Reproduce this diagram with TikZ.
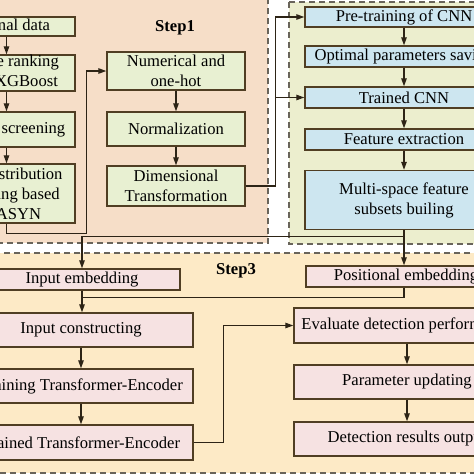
\documentclass[tikz,border=0pt]{standalone}
\usepackage{fontspec}
\setmainfont{Liberation Serif}
\usepackage{xcolor}
\usetikzlibrary{arrows.meta,positioning,calc}
\definecolor{steponebg}{RGB}{246,222,200}
\definecolor{steptwobg}{RGB}{236,238,206}
\definecolor{stepthreebg}{RGB}{253,234,198}
\definecolor{greenfill}{RGB}{232,240,210}
\definecolor{bluefill}{RGB}{205,230,240}
\definecolor{pinkfill}{RGB}{246,226,226}
\definecolor{boxline}{RGB}{80,62,35}
\definecolor{linecol}{RGB}{45,36,22}
\definecolor{dashgray}{RGB}{105,100,90}

\begin{document}
\begin{tikzpicture}[x=1pt, y=-1pt,
    every node/.style={font=\fontsize{16.6}{20}\selectfont},
    gbox/.style={rectangle, draw=boxline, line width=1.4pt, fill=greenfill,
        inner sep=0pt, align=center, minimum width=137pt},
    bbox/.style={rectangle, draw=boxline, line width=1.4pt, fill=bluefill,
        inner sep=0pt, align=center, minimum width=198pt},
    pbox/.style={rectangle, draw=boxline, line width=1.4pt, fill=pinkfill,
        inner sep=0pt, align=center, minimum width=224pt},
    region/.style={draw=dashgray, line width=2pt, dash pattern=on 6pt off 4pt},
    steplabel/.style={font=\fontsize{16.6}{20}\selectfont\bfseries},
    conn/.style={line width=1.2pt, draw=linecol},
    arr/.style={-{Triangle[length=8pt, width=5.5pt]}, line width=1.2pt, draw=linecol}
]
    \useasboundingbox (0,0) rectangle (474,474);
    \clip (0,0) rectangle (474,474);

    % Step regions
    \draw[region, fill=steponebg] (-20,-20) rectangle (268,243);
    \draw[region, fill=steptwobg] (289,2) rectangle (600,244);
    \draw[region, fill=stepthreebg] (-20,253) rectangle (600,473);

    % Step1 columns
    \node[steplabel] (s1lab) at (175,28) {Step1};
    \node[gbox, minimum height=19pt] (orig) at (6.5,26.5) {Original data};
    \node[gbox, minimum height=36pt] (rank) at (6.5,73) {Feature ranking\\using XGBoost};
    \node[gbox, minimum height=35pt] (screen) at (6.5,129.5) {Feature screening};
    \node[gbox, minimum height=59pt] (balance) at (6.5,193.5) {Data distribution\\balancing based\\ADASYN};
    \node[gbox, minimum width=138pt, minimum height=38pt] (numer) at (176,71) {Numerical and\\one-hot};
    \node[gbox, minimum width=138pt, minimum height=34pt] (norm) at (176,129) {Normalization};
    \node[gbox, minimum width=138pt, minimum height=40pt] (dimen) at (176,186) {Dimensional\\Transformation};
    \draw[arr] (orig) -- (rank);
    \draw[arr] (rank) -- (screen);
    \draw[arr] (screen) -- (balance);
    \draw[arr] (balance.south) -- ++(0,10) -- ++(80,0) |- (numer.west);
    \draw[arr] (numer) -- (norm);
    \draw[arr] (norm) -- (dimen);

    % Step2 column
    \node[bbox, minimum height=20pt] (pretrain) at (404,17) {Pre-training of CNN};
    \node[bbox, minimum height=21pt] (optim) at (404,56.5) {Optimal parameters saving};
    \node[bbox, minimum height=21pt] (trained) at (404,97.5) {Trained CNN};
    \node[bbox, minimum height=21pt] (featext) at (404,139.5) {Feature extraction};
    \node[bbox, minimum height=59pt] (multi) at (404,200) {Multi-space feature\\subsets builing};
    \path (dimen.east) ++(30,0) coordinate (s1out);
    \draw[conn] (dimen.east) -- (s1out);
    \draw[arr] (s1out) |- (pretrain.west);
    \draw[arr] (s1out) |- (trained.west);
    \draw[arr] (pretrain) -- (optim);
    \draw[arr] (optim) -- (trained);
    \draw[arr] (trained) -- (featext);
    \draw[arr] (featext) -- (multi);

    % Step3 columns
    \node[steplabel] (s3lab) at (236,271) {Step3};
    \node[pbox, minimum width=196pt, minimum height=21pt] (inemb) at (82,279.5) {Input embedding};
    \node[pbox, minimum height=34pt] (inconst) at (81,330) {Input constructing};
    \node[pbox, minimum height=34pt] (trainte) at (81,386) {Training Transformer-Encoder};
    \node[pbox, minimum height=35pt] (trainedte) at (81,442.5) {Trained Transformer-Encoder};
    \node[pbox, minimum width=200pt, minimum height=21pt] (posemb) at (406,276.5) {Positional embedding};
    \node[pbox, minimum width=226pt, minimum height=35pt] (evaluate) at (407,325.5) {Evaluate detection performance};
    \node[pbox, minimum width=226pt, minimum height=34pt] (param) at (407,382) {Parameter updating};
    \node[pbox, minimum width=226pt, minimum height=34pt] (detect) at (407,439) {Detection results output};
    \path (multi.south) ++(0,6) coordinate (s2out);
    \path (inemb.south) ++(0,7) coordinate (embjoin);
    \draw[arr] (multi.south) -- (multi.south |- posemb.north);
    \draw[arr] (s2out) -| (inemb.north);
    \draw[conn] (multi.south |- posemb.south) |- (embjoin);
    \draw[arr] (inemb.south) -- (inemb.south |- inconst.north);
    \draw[arr] (inconst) -- (trainte);
    \draw[arr] (trainte) -- (trainedte);
    \draw[arr] (trainedte.east) -- ++(30,0) |- (evaluate.west);
    \draw[arr] (evaluate) -- (param);
    \draw[arr] (param) -- (detect);
\end{tikzpicture}
\end{document}
